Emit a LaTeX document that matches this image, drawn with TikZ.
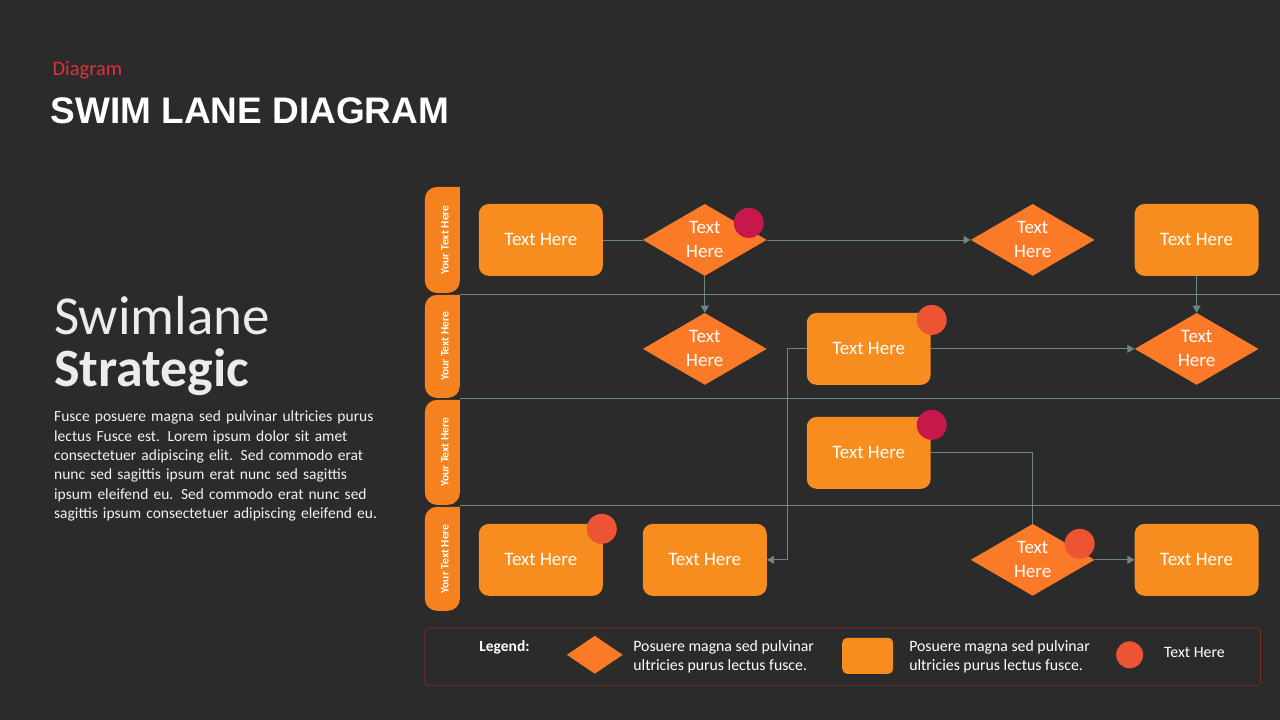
\documentclass[tikz,border=0pt]{standalone}
\usepackage{fontspec}
\setmainfont{Carlito}
\newfontfamily\headfont{Liberation Sans}
\usetikzlibrary{shapes.geometric,arrows.meta}
\definecolor{bg}{HTML}{2B2B2B}
\definecolor{boxorange}{HTML}{F78C1F}
\definecolor{diaorange}{HTML}{FB7A28}
\definecolor{taborange}{HTML}{F6821F}
\definecolor{dotred}{HTML}{C8174A}
\definecolor{dotorange}{HTML}{EC5434}
\definecolor{linegray}{HTML}{6E8585}
\definecolor{redtitle}{HTML}{E0303C}
\definecolor{legendline}{HTML}{B0301E}
\begin{document}
\begin{tikzpicture}[x=1pt,y=-1pt,
	box/.style={rectangle,rounded corners=10pt,fill=boxorange,minimum width=124pt,minimum height=72pt,text=white,font=\fontsize{19}{22}\selectfont},
	dia/.style={diamond,aspect=1.72,fill=diaorange,minimum width=124pt,minimum height=72pt,inner sep=0pt,text=white,align=center,font=\fontsize{19}{24}\selectfont},
	dot/.style={circle,minimum size=30pt,inner sep=0pt},
	lane/.style={linegray,line width=0.8pt},
	flow/.style={linegray,line width=0.8pt,-{Triangle[length=7pt,width=8pt]}}]

	\fill [bg] (0,0) rectangle (1280,720);

	% heading
	\node (cat) [anchor=west,text=redtitle,font=\fontsize{20.5}{22}\selectfont] at (49,70) {Diagram};
	\node (title) [anchor=west,text=white,font=\headfont\bfseries\fontsize{37}{40}\selectfont] at (47,111) {SWIM LANE DIAGRAM};
	\node (sub1) [anchor=west,inner sep=0pt,text=white!85!gray,font=\fontsize{55}{56}\selectfont] at (54,316) {Swimlane};
	\node (sub2) [anchor=west,inner sep=0pt,text=white!85!gray,font=\bfseries\fontsize{54}{56}\selectfont] at (54,372) {Strategic};
	\node (para) [anchor=north west,text=white!90!gray,text width=335pt,align=left,inner sep=0pt,font=\fontsize{15.5}{19.3}\selectfont] at (54,411)
	{Fusce posuere magna sed pulvinar ultricies purus\\lectus Fusce est. Lorem ipsum dolor sit amet\\consectetuer adipiscing elit. Sed commodo erat\\nunc sed sagittis ipsum erat nunc sed sagittis\\ipsum eleifend eu. Sed commodo erat nunc sed\\sagittis ipsum consectetuer adipiscing eleifend eu.};

	% lane tabs
	\foreach \ya/\yb/\nm in {187/293/t1,295/398/t2,400/505/t3,507/611/t4}{
		\fill [taborange,rounded corners=12pt] (460,\ya) -- (425,\ya) -- (425,\yb) -- (460,\yb) [sharp corners] -- cycle;
		\node (\nm) [rotate=90,text=white,font=\bfseries\fontsize{11.5}{12}\selectfont] at (445,{(\ya+\yb)/2}) {Your Text Here};
	}
	\draw [lane] (460,294) -- (1280,294);
	\draw [lane] (460,399) -- (1280,399);
	\draw [lane] (460,506) -- (1280,506);

	% shapes
	\node (r1) [box] at (541,240) {Text Here};
	\node (d1) [dia] at (705,240) {Text\\Here};
	\node (d2) [dia] at (1033,240) {Text\\Here};
	\node (r2) [box] at (1197,240) {Text Here};
	\node (d3) [dia] at (705,349) {Text\\Here};
	\node (r3) [box] at (869,349) {Text Here};
	\node (d4) [dia] at (1197,349) {Text\\Here};
	\node (r4) [box] at (869,453) {Text Here};
	\node (r5) [box] at (541,560) {Text Here};
	\node (r6) [box] at (705,560) {Text Here};
	\node (d5) [dia] at (1033,560) {Text\\Here};
	\node (r7) [box] at (1197,560) {Text Here};

	\coordinate (k1) at (788,349);
	\coordinate (k2) at (788,560);
	\coordinate (k3) at (1033,453);

	\draw [lane] (r1.east) -- (d1.west);
	\draw [flow] (d1.east) -- (d2.west);
	\draw [flow] (d1.south) -- (d3.north);
	\draw [flow] (r2.south) -- (d4.north);
	\draw [flow] (r3.east) -- (d4.west);
	\draw [flow] (r3.west) -- (k1) -- (k2) -- (r6.east);
	\draw [lane] (r4.east) -- (k3) -- (d5.north);
	\draw [flow] (d5.east) -- (r7.west);

	\node (c1) [dot,fill=dotred] at (749,223) {};
	\node (c2) [dot,fill=dotorange] at (932,320) {};
	\node (c3) [dot,fill=dotred] at (932,425) {};
	\node (c4) [dot,fill=dotorange] at (602,529) {};
	\node (c5) [dot,fill=dotorange] at (1080,544) {};

	% legend
	\draw [legendline,rounded corners=4pt] (425,628) rectangle (1261,686);
	\node (lg) [anchor=west,text=white,font=\bfseries\fontsize{15.5}{16}\selectfont] at (476,648) {Legend:};
	\node (ld) [diamond,aspect=1.45,fill=diaorange,minimum width=56pt,minimum height=38pt,inner sep=0pt] at (595,655) {};
	\node (lt1) [anchor=west,text=white,align=left,font=\fontsize{15.8}{19}\selectfont] at (630,657) {Posuere magna sed pulvinar\\ultricies purus lectus fusce.};
	\node (lr) [rectangle,rounded corners=5pt,fill=boxorange,minimum width=51pt,minimum height=36pt] at (868,656) {};
	\node (lt2) [anchor=west,text=white,align=left,font=\fontsize{15.8}{19}\selectfont] at (906,657) {Posuere magna sed pulvinar\\ultricies purus lectus fusce.};
	\node (ldot) [dot,minimum size=27pt,fill=dotorange] at (1130,655) {};
	\node (lt3) [anchor=west,text=white,font=\fontsize{15.8}{16}\selectfont] at (1161,653) {Text Here};

\end{tikzpicture}
\end{document}
